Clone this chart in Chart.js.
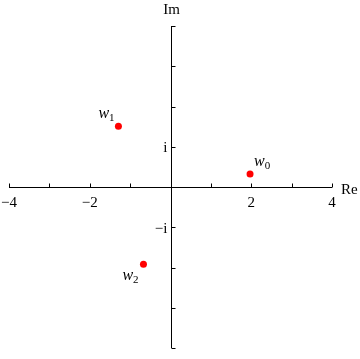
<!DOCTYPE html>
<html>
<head>
<meta charset="utf-8">
<script src="https://cdn.jsdelivr.net/npm/chart.js@4/dist/chart.umd.min.js"></script>
<style>
  html, body { margin: 0; padding: 0; background: #fff; }
  #wrap { width: 360px; height: 359px; }
</style>
</head>
<body>
<div id="wrap"><canvas id="plot" width="360" height="359"></canvas></div>
<script>
// 數據: 三個點 (實部, 虛部)
const pointNames = ["0", "1", "2"];
const reValues = [1.97, -1.29, -0.67];
const imValues = [0.32, 1.51, -1.92];
// 刻度
const xTickLabels = { "-4": "\u22124", "-2": "\u22122", "2": "2", "4": "4" };
const yTickLabels = { "1": "i", "-1": "\u2212i" };

const serif = "'Liberation Serif', 'DejaVu Serif', serif";
// 標籤相對於點的位移 (dx, dy)
const labelOffset = [[4, -8], [-20, -8], [-21, 16]];

// 自訂插件: 軸線、刻度線、刻度文字、Re / Im、點的名稱
const axesPlugin = {
  id: "axesPlugin",
  beforeDatasetsDraw(chart) {
    const { ctx, scales: { x, y } } = chart;
    const x0 = Math.round(x.getPixelForValue(0)) + 0.5;
    const y0 = Math.round(y.getPixelForValue(0)) + 0.5;
    const left = x.getPixelForValue(x.min), right = x.getPixelForValue(x.max);
    const top = y.getPixelForValue(y.max), bottom = y.getPixelForValue(y.min);
    ctx.save();
    ctx.strokeStyle = "#000";
    ctx.lineWidth = 1;
    ctx.beginPath();
    ctx.moveTo(left, y0); ctx.lineTo(right, y0);
    ctx.moveTo(x0, top); ctx.lineTo(x0, bottom);
    x.ticks.forEach(({ value }) => {
      if (value === 0) return;
      const px = Math.round(x.getPixelForValue(value)) + 0.5;
      ctx.moveTo(px, y0); ctx.lineTo(px, y0 - 4);
    });
    y.ticks.forEach(({ value }) => {
      if (value === 0) return;
      const py = Math.round(y.getPixelForValue(value)) + 0.5;
      ctx.moveTo(x0, py); ctx.lineTo(x0 + 4, py);
    });
    ctx.stroke();

    ctx.fillStyle = "#000";
    ctx.font = "15px " + serif;
    ctx.textBaseline = "alphabetic";
    // 刻度文字
    ctx.textAlign = "center";
    x.ticks.forEach(({ value }) => {
      const label = xTickLabels[String(value)];
      if (label) ctx.fillText(label, x.getPixelForValue(value), y0 + 19);
    });
    ctx.textAlign = "right";
    y.ticks.forEach(({ value }) => {
      const label = yTickLabels[String(value)];
      if (label) ctx.fillText(label, x0 - 4, y.getPixelForValue(value) + 5.5);
    });
    // 軸名稱
    ctx.textAlign = "left";
    ctx.fillText("Re", right + 9, y0 + 6);
    ctx.textAlign = "center";
    ctx.fillText("Im", x0, top - 12.5);
    ctx.restore();
  },
  afterDatasetsDraw(chart) {
    const { ctx, scales: { x, y } } = chart;
    ctx.save();
    ctx.fillStyle = "#000";
    ctx.textBaseline = "alphabetic";
    ctx.textAlign = "left";
    reValues.forEach((re, i) => {
      const px = x.getPixelForValue(re) + labelOffset[i][0];
      const py = y.getPixelForValue(imValues[i]) + labelOffset[i][1];
      ctx.font = "italic 16px " + serif;
      ctx.fillText("w", px, py);
      const w = ctx.measureText("w").width;
      ctx.font = "11px " + serif;
      ctx.fillText(pointNames[i], px + w, py + 3);
    });
    ctx.restore();
  }
};

new Chart(document.getElementById("plot"), {
  type: "scatter",
  data: {
    datasets: [
      {
        data: reValues.map((re, i) => ({ x: re, y: imValues[i] })),
        backgroundColor: "#ff0000",
        borderColor: "#ff0000",
        pointRadius: 3.5,
        borderWidth: 0,
      },
    ],
  },
  options: {
    responsive: false,
    animation: false,
    layout: { padding: { left: 9, right: 28, top: 26, bottom: 11 } },
    plugins: { legend: { display: false }, tooltip: { enabled: false } },
    scales: {
      x: {
        type: "linear",
        position: { y: 0 },
        min: -4,
        max: 4,
        grid: { display: false, drawTicks: false, tickLength: 0 },
        border: { display: false },
        ticks: { stepSize: 1, display: false },
      },
      y: {
        type: "linear",
        position: { x: 0 },
        min: -4,
        max: 4,
        grid: { display: false, drawTicks: false, tickLength: 0 },
        border: { display: false },
        ticks: { stepSize: 1, display: false },
      },
    },
  },
  plugins: [axesPlugin],
});
</script>
</body>
</html>
